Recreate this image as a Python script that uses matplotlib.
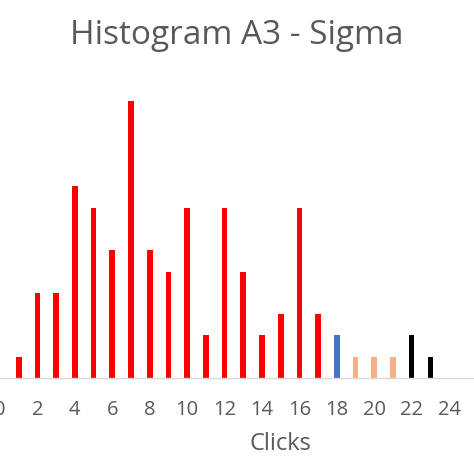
import matplotlib.pyplot as plt

# Clicks and counts
clicks = list(range(1, 24))
counts = [1, 4, 4, 9, 8, 6, 13, 6, 5, 8, 2, 8, 5, 2, 3, 8, 3, 2, 1, 1, 1, 2, 1]
colors = ['#FF0000'] * 17 + ['#4472C4'] + ['#F4B183'] * 3 + ['#000000'] * 2
tick_vals = list(range(0, 25, 2))

fig = plt.figure(figsize=(4.74, 4.74), dpi=100)
ax = fig.add_axes([0, 1 - 378 / 474, 1, 298 / 474])

ax.bar(clicks, counts, width=0.3, color=colors)
ax.set_xlim(0.053, 25.33)
ax.set_ylim(0, 14)

for s in ['top', 'right', 'left']:
    ax.spines[s].set_visible(False)
ax.spines['bottom'].set_color('#D9D9D9')
ax.spines['bottom'].set_linewidth(1.0)
ax.set_yticks([])
ax.set_xticks(tick_vals)
ax.set_xticklabels([str(v) for v in tick_vals], fontsize=14.5, color='#595959',
                   family='Open Sans')
ax.tick_params(axis='x', length=0, pad=16)

fig.text(0.5, 1 - 36 / 474, 'Histogram A3 - Sigma', ha='center', va='center',
         fontsize=24, color='#595959', family='Open Sans')
fig.text(280 / 474, 1 - 444 / 474, 'Clicks', ha='center', va='center',
         fontsize=17, color='#595959', family='Open Sans')

fig.savefig('out.png', dpi=100)
